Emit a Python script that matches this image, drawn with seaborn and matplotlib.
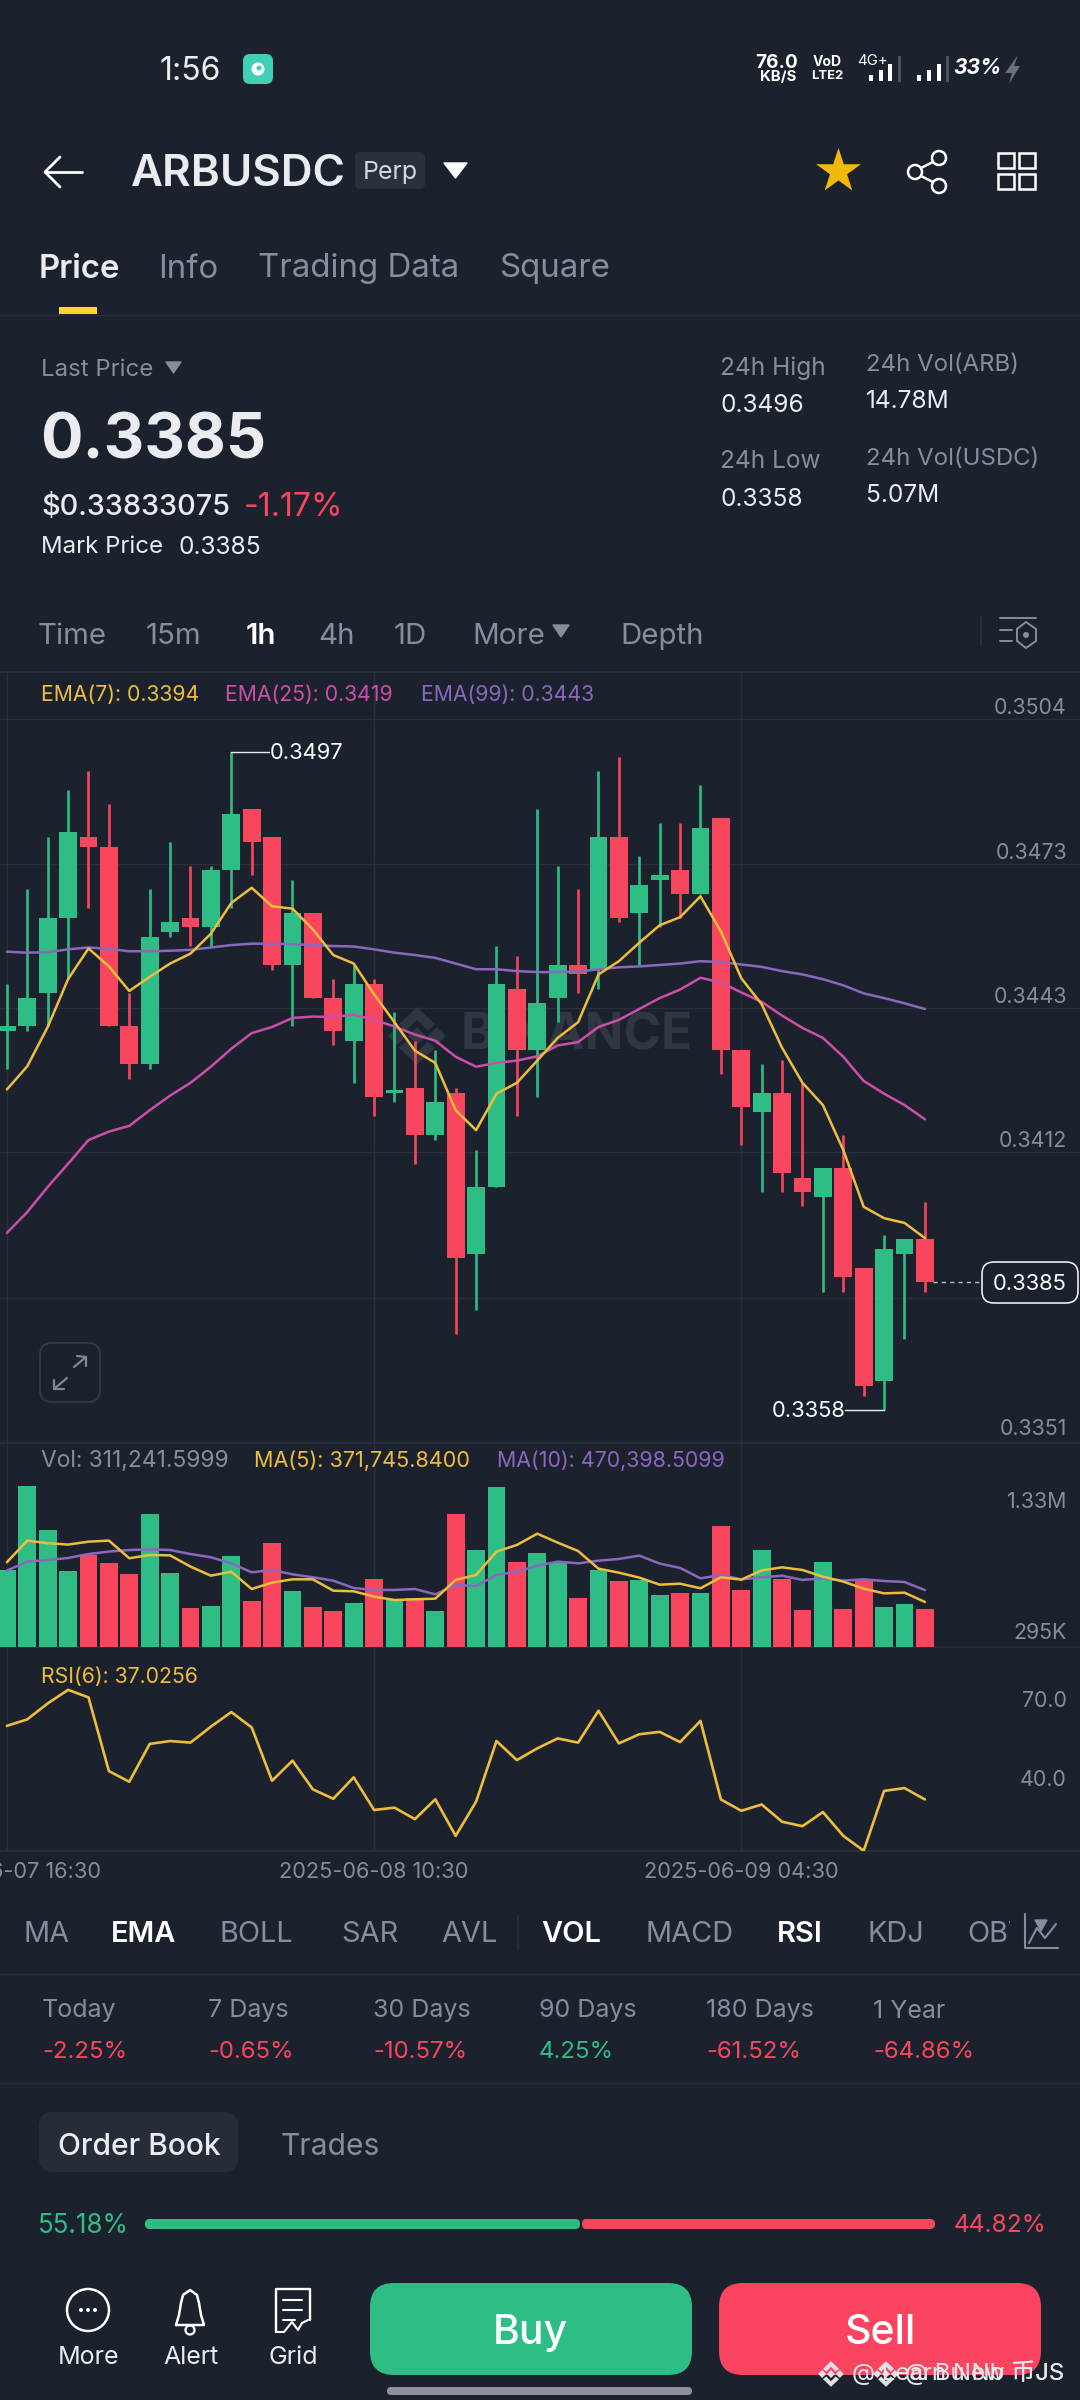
import numpy as np
import matplotlib
matplotlib.use("Agg")
import matplotlib.pyplot as plt
from matplotlib.patches import FancyBboxPatch, Polygon, Circle, Rectangle
from matplotlib.transforms import ScaledTranslation
from matplotlib.ticker import FixedLocator, FixedFormatter
import seaborn as sns

# ---------- data (prices in 1e-4 units) ----------
body_top = [3439,3445,3462,3480,3479,3477,3439,3458,3461,3462,3472,3484,3485,3479,3463,3463,3445,3448,3448,3425.5,3426,3423,3425,3405,3448,3447,3444,3452,3452,3479,3479,3469,3471,3472,3481,3483,3434,3425,3425,3407,3409,3409,3388,3392,3394,3394]
body_bot = [3438,3439,3446,3462,3477,3439,3431,3431,3459,3460,3460,3472,3478,3452,3452,3445,3438,3436,3424,3425,3416,3416,3390,3391,3405,3434,3434,3445,3450,3451,3462,3463,3470,3467,3467,3434,3422,3421,3408,3404,3403,3386,3363,3364,3391,3385]
high = [3448,3468,3479,3489,3493,3486,3446,3468,3478,3473,3473,3497,3485,3479,3470,3463,3449,3452,3449,3442,3436,3434,3426,3413,3456,3454,3485,3473,3468,3493,3496,3475,3482,3482,3490,3483,3434,3431,3432,3427,3409,3416,3388,3395,3394,3402]
low = [3430,3438,3439,3449,3464,3439,3428,3430,3458,3456,3456,3464,3471,3451,3439,3445,3435,3427,3420,3423,3410,3415,3374,3379,3405,3420,3424,3440,3446,3447,3461,3452,3460,3462,3467,3429,3414,3404,3404,3401,3383,3383,3361,3358,3373,3383]
direction = ["G","G","G","G","R","R","R","G","G","R","G","G","R","R","G","R","R","G","R","G","R","G","R","G","G","R","G","G","R","G","R","G","G","R","G","R","R","G","R","R","G","R","R","G","G","R"]
ema7 = [3425.7,3430.6,3438.9,3449.0,3455.5,3451.7,3446.5,3449.5,3452.3,3454.4,3458.6,3465.1,3468.3,3464.4,3463.9,3459.5,3454.1,3452.3,3445.8,3439.9,3433.9,3431.3,3421.3,3417.1,3424.8,3427.1,3431.8,3436.6,3439.9,3450.0,3452.8,3456.7,3460.4,3462.1,3466.5,3459.1,3449.2,3443.7,3434.5,3427.1,3422.4,3412.9,3400.9,3398.5,3397.5,3394.3]
ema25 = [3395.4,3399.8,3405.1,3410.0,3415.0,3416.8,3418.0,3421.3,3424.4,3427.1,3430.5,3434.3,3437.6,3438.9,3440.8,3441.1,3441.0,3441.5,3440.4,3439.0,3437.3,3436.0,3432.6,3430.5,3431.3,3431.8,3432.7,3435.0,3435.7,3438.9,3440.4,3442.7,3445.0,3446.8,3449.3,3448.3,3446.2,3444.2,3441.3,3438.7,3436.6,3432.6,3427.5,3424.8,3422.4,3419.4]
ema99 = [3454.8,3454.6,3454.7,3455.3,3455.7,3455.4,3454.9,3454.9,3455.0,3455.2,3455.7,3456.2,3456.5,3456.5,3456.4,3456.2,3456.0,3455.9,3455.3,3454.6,3454.1,3453.5,3452.3,3451.1,3451.1,3450.7,3450.5,3450.5,3450.6,3451.1,3451.5,3451.7,3452.0,3452.3,3452.8,3452.6,3452.1,3451.6,3450.7,3450.0,3449.0,3447.7,3446.0,3445.0,3443.9,3442.7]
volume = [636,1330,967,631,760,691,606,1099,609,325,336,749,380,859,465,333,295,364,565,388,402,297,1096,804,1325,700,779,691,402,633,543,554,427,446,446,1000,468,799,562,306,702,314,554,328,358,311]
ma5 = [700,879,857,846,870,879,733,760,757,664,589,622,479,532,559,559,465,460,416,388,394,399,554,595,788,843,936,862,793,647,614,573,515,523,485,576,556,633,658,636,581,540,482,443,449,372]
ma10 = [631,705,719,735,768,788,801,807,801,768,741,691,617,636,600,576,548,487,471,471,479,435,512,504,595,622,672,705,691,713,727,755,689,653,567,595,559,576,589,554,567,548,559,545,537,470]
rsi6 = [65.2,67.7,73.8,79.0,76.1,47.9,43.8,58.3,59.4,58.8,64.9,70.5,64.6,44.2,51.9,40.9,37.3,45.5,33.0,33.9,29.5,37.1,23.1,36.2,59.4,52.1,56.6,60.4,58.8,71.0,58.5,62.0,62.9,59.0,67.1,37.03,32.7,35.1,28.5,26.8,32.2,23.1,17.4,40.3,41.4,37.03]
price_ticks = [3504,3473.4,3442.9,3412.4,3381.7,3351]
price_tick_labels = ["0.3504","0.3473","0.3443","0.3412","","0.3351"]
time_ticks = [0,18,36]
time_labels = ["2025-06-07 16:30","2025-06-08 10:30","2025-06-09 04:30"]
range_names = ["Today","7 Days","30 Days","90 Days","180 Days","1 Year"]
range_values = ["-2.25%","-0.65%","-10.57%","4.25%","-61.52%","-64.86%"]
book_shares = [55.18,44.82]

# ---------- style ----------
BG = "#1c222d"; GREEN = "#2ebd85"; RED = "#f9465f"; GRID = "#2a303b"; GRAY = "#848e9c"
YEL = "#edbd3c"; PINK = "#cb4fa8"; PUR = "#8a68bd"; WHITE = "#eaecef"
sns.set_theme(style="dark", rc={"axes.facecolor": "none", "figure.facecolor": BG})
plt.rcParams["font.family"] = ["Inter", "Noto Sans CJK SC", "DejaVu Sans"]

W, H = 1080, 2400
fig = plt.figure(figsize=(W/100, H/100), dpi=100, facecolor=BG)
idx = np.arange(len(high))
XL = (-6.89/20.4, (W-6.89)/20.4)

def panel(top, bottom):
    a = fig.add_axes([0, 1-bottom/H, 1, (bottom-top)/H])
    a.set_facecolor("none")
    for s in a.spines.values():
        s.set_visible(False)
    return a

ax = panel(672, 1443)
axv = panel(1443, 1647)
axr = panel(1647, 1851)
ui = fig.add_axes([0, 0, 1, 1], zorder=5)
ui.set_xlim(0, W); ui.set_ylim(H, 0); ui.axis("off"); ui.set_facecolor("none")

def txt(x, y, s, px, color=GRAY, weight="normal", ha="left", a=None, **kw):
    return (a or ui).text(x, y+6, s, fontsize=px*0.72, color=color, fontweight=weight, ha=ha, va="center", **kw)

def box(x0, y0, x1, y1, r, fc="none", ec="none", lw=0, z=2):
    p = FancyBboxPatch((x0+r, y0+r), x1-x0-2*r, y1-y0-2*r, boxstyle=f"round,pad={r}", fc=fc, ec=ec, lw=lw, zorder=z)
    ui.add_patch(p); return p

def line(xs, ys, color=WHITE, lw=1.6, **kw):
    ui.plot(xs, ys, color=color, lw=lw, solid_capstyle="round", **kw)

def tri(x0, x1, y0, y1, color):
    ui.add_patch(Polygon([(x0, y0), (x1, y0), ((x0+x1)/2, y1)], closed=True, fc=color, ec=color, lw=1, joinstyle="round"))

def logo(target, cx, cy, k, color, z):
    shapes = [
        [(cx-k, cy), (cx, cy-k), (cx+k, cy), (cx, cy+k)],
        [(cx-3.2*k, cy), (cx-2.2*k, cy-k), (cx-1.2*k, cy), (cx-2.2*k, cy+k)],
        [(cx+3.2*k, cy), (cx+2.2*k, cy-k), (cx+1.2*k, cy), (cx+2.2*k, cy+k)],
        [(cx-2*k, cy-1.3*k), (cx, cy-3.2*k), (cx+2*k, cy-1.3*k), (cx+1.2*k, cy-.6*k), (cx, cy-1.8*k), (cx-1.2*k, cy-.6*k)],
        [(cx-2*k, cy+1.3*k), (cx, cy+3.2*k), (cx+2*k, cy+1.3*k), (cx+1.2*k, cy+.6*k), (cx, cy+1.8*k), (cx-1.2*k, cy+.6*k)],
    ]
    for pts in shapes:
        p = Polygon(pts, closed=True, fc=color, ec="none", zorder=z)
        target.add_patch(p)
        p.set_transform(ui.transData)

# ---------- candles ----------
up = np.array(direction) == "G"
colors = np.where(up, GREEN, RED)
top = np.array(body_top)/1e4; bot = np.array(body_bot)/1e4
ax.vlines(idx, np.array(low)/1e4, np.array(high)/1e4, colors=colors, lw=1.9, zorder=3)
ax.bar(idx, top-bot, bottom=bot, width=0.88, color=colors, edgecolor="none", linewidth=0, zorder=3)
sns.lineplot(x=idx, y=np.array(ema99)/1e4, color=PUR, lw=1.8, ax=ax, errorbar=None, zorder=4)
sns.lineplot(x=idx, y=np.array(ema25)/1e4, color=PINK, lw=1.8, ax=ax, errorbar=None, zorder=4)
sns.lineplot(x=idx, y=np.array(ema7)/1e4, color=YEL, lw=1.8, ax=ax, errorbar=None, zorder=4)
ax.set_xlim(*XL)
ax.set_ylim(0.3351, 0.35139)
ax.yaxis.set_major_locator(FixedLocator([p/1e4 for p in price_ticks]))
ax.yaxis.set_major_formatter(FixedFormatter(price_tick_labels))

# ---------- volume ----------
sns.barplot(x=idx, y=volume, hue=direction, palette={"G": GREEN, "R": RED}, native_scale=True, width=0.88,
            dodge=False, gap=0, saturation=1, errorbar=None, legend=False, ax=axv, zorder=3, linewidth=0, edgecolor="none")
sns.lineplot(x=idx, y=ma10, color=PUR, lw=1.8, ax=axv, errorbar=None, zorder=4)
sns.lineplot(x=idx, y=ma5, color=YEL, lw=1.8, ax=axv, errorbar=None, zorder=4)
axv.set_xlim(*XL); axv.set_ylim(0, 1685)
axv.set_yticks([0, 1330]); axv.set_yticklabels(["295K", "1.33M"])

# ---------- RSI ----------
sns.lineplot(x=idx, y=rsi6, color=YEL, lw=1.9, ax=axr, errorbar=None, zorder=4)
axr.set_xlim(*XL); axr.set_ylim(17.3, 95.4)
axr.set_yticks([40, 70]); axr.set_yticklabels(["40.0", "70.0"])

for a in (ax, axv, axr):
    a.set_xlabel(""); a.set_ylabel("")
    a.yaxis.tick_right()
    a.tick_params(axis="y", length=0, pad=-9.4, labelsize=15.4, labelcolor=GRAY)
    a.set_xticks(time_ticks)
    a.grid(True, axis="x", color=GRID, lw=1)
    a.tick_params(axis="x", length=0, labelbottom=False)
    a.set_axisbelow(True)
ax.grid(True, axis="y", color=GRID, lw=1)
ax.spines["top"].set_visible(True); ax.spines["top"].set_color(GRID)
axv.spines["top"].set_visible(True); axv.spines["top"].set_color(GRID)
axv.spines["bottom"].set_visible(True); axv.spines["bottom"].set_color(GRID)
axr.spines["bottom"].set_visible(True); axr.spines["bottom"].set_color(GRID)
axr.set_xticklabels(time_labels)
axr.tick_params(axis="x", labelbottom=True, labelsize=15.7, labelcolor=GRAY, pad=8)

offsets = {ax: {"0.3351": 14}, axv: {"295K": 14, "1.33M": -16}, axr: {}}
for a, default in ((ax, 11), (axv, 0), (axr, 12)):
    for lab in a.get_yticklabels():
        lab.set_ha("right"); lab.set_va("center")
        dy = offsets[a].get(lab.get_text(), default)
        lab.set_transform(lab.get_transform() + ScaledTranslation(0, dy/100, fig.dpi_scale_trans))

# chart annotations
ax.plot([11, 12.85], [0.3497, 0.3497], color=WHITE, lw=1, zorder=5)
ax.text(12.9, 0.34968, "0.3497", color="white", fontsize=15.8, va="center", ha="left", zorder=6)
ax.plot([43, 41.1], [0.3358, 0.3358], color=WHITE, lw=1, zorder=5)
ax.text(41.1, 0.33578, "0.3358", color="white", fontsize=15.8, va="center", ha="right", zorder=6)
ax.plot([45.4, 47.85], [0.3385, 0.3385], color="#b8bcc4", lw=1, ls=(0, (3, 3)), zorder=5)

# watermark behind candles
wm = "#303743"
logo(ax, 417, 1036, 9, wm, 1)
t = ui.text(461, 1036, "BINANCE", fontsize=36.6, color=wm, fontweight="bold", ha="left", va="center")
t.remove(); ax.add_artist(t); t.set_transform(ui.transData); t.set_zorder(1)

# ---------- status bar ----------
txt(160, 65, "1:56", 32, WHITE)
box(243, 54, 273, 84, 7, fc="#3fd0b5")
ui.add_patch(Circle((258, 69), 6.5, fc="white", ec="none", zorder=3))
ui.add_patch(Circle((259, 68), 2.5, fc="#3fd0b5", ec="none", zorder=4))
txt(777, 57, "76.0", 19, "white", "bold", ha="center")
txt(778, 71, "KB/S", 15, "white", "bold", ha="center")
txt(827, 56, "VoD", 14, "white", "bold", ha="center")
txt(827, 70, "LTE2", 13, "white", "bold", ha="center")
txt(872, 55, "4G+", 15, "white", "normal", ha="center")
for x, yt in [(871, 75), (881, 70), (890, 64)]:
    ui.add_patch(Rectangle((x-2.2, yt), 4.5, 81-yt, fc="white", ec="none"))
ui.add_patch(Rectangle((898, 56), 3, 26, fc="#4d535e", ec="none"))
for x, yt in [(919, 75), (929, 70), (939, 64)]:
    ui.add_patch(Rectangle((x-2.2, yt), 4.5, 81-yt, fc="white", ec="none"))
ui.add_patch(Rectangle((946, 56), 3, 26, fc="#4d535e", ec="none"))
txt(978, 62, "33%", 21, "white", "bold", ha="center", style="italic")
ui.add_patch(Polygon([(1018, 55), (1005, 73), (1012, 73), (1009, 84), (1020, 66), (1014, 66)], closed=True, fc="#6b7079", ec="none"))

# ---------- header ----------
line([45, 82], [172, 172], "white", 2)
line([60, 45, 60], [157, 172, 187], "white", 2)
txt(131, 168, "ARBUSDC", 44, WHITE, "semibold")
box(355, 152, 425, 189, 5, fc="#2a303c")
txt(390, 167, "Perp", 25, "#d5d8de", ha="center")
tri(444, 467, 163, 178, "white")
ui.scatter([838], [171], marker="*", s=1150, color="#f0b90b", zorder=3, linewidths=0)
for cx, cy in [(939, 158), (915, 172), (939, 186)]:
    ui.add_patch(Circle((cx, cy), 7, fc="none", ec="white", lw=1.8, zorder=3))
line([921, 933], [168, 162], "white", 1.8)
line([921, 933], [176, 182], "white", 1.8)
for x, y in [(998, 153), (1019, 153), (998, 174), (1019, 174)]:
    ui.add_patch(Rectangle((x, y), 16, 15, fc="none", ec="white", lw=1.8))

# ---------- tabs ----------
txt(39, 263, "Price", 33, WHITE, "semibold")
txt(158, 263, "Info", 33)
txt(258, 263, "Trading Data", 33)
txt(499, 263, "Square", 33)
ui.add_patch(Rectangle((59, 307), 38, 7, fc="#fcd535", ec="none"))
ui.plot([0, W], [315, 315], color=GRID, lw=1)

# ---------- price block ----------
txt(41, 364, "Last Price", 24)
tri(166, 181, 362, 373, GRAY)
txt(40, 436, "0.3385", 63, WHITE, "bold")
txt(41, 501, "$0.33833075", 28.8, WHITE, "medium")
txt(244, 501, "-1.17%", 32, RED)
txt(41, 541, "Mark Price", 24, WHITE)
txt(178, 541, "0.3385", 24.5, WHITE)
txt(720, 362, "24h High", 24.5)
txt(720, 399, "0.3496", 24.5, WHITE)
txt(720, 456, "24h Low", 24.5)
txt(720, 493, "0.3358", 24.5, WHITE)
txt(866, 359, "24h Vol(ARB)", 24)
txt(866, 396, "14.78M", 24.5, WHITE)
txt(866, 453, "24h Vol(USDC)", 24)
txt(866, 490, "5.07M", 24.5, WHITE)

# ---------- interval row ----------
for x, s, c, w in [(38, "Time", GRAY, "normal"), (146, "15m", GRAY, "normal"), (246, "1h", "white", "semibold"),
                   (318, "4h", GRAY, "normal"), (394, "1D", GRAY, "normal"), (472, "More", GRAY, "normal"), (620, "Depth", GRAY, "normal")]:
    txt(x, 630, s, 29.5, c, w)
tri(553, 569, 625, 637, GRAY)
ui.plot([981, 981], [617, 646], color=GRID, lw=1.5)
line([1000, 1036], [618, 618], GRAY, 1.4)
line([1000, 1012], [630, 630], GRAY, 1.4)
line([1000, 1012], [641, 641], GRAY, 1.4)
ui.add_patch(Polygon([(1026, 622), (1036, 629), (1036, 641), (1026, 648), (1017, 641), (1017, 629)], closed=True, fc="none", ec=GRAY, lw=1.4))
ui.add_patch(Circle((1026, 635), 3, fc=GRAY, ec="none"))

# ---------- legends ----------
txt(41, 689, "EMA(7): 0.3394", 21.2, YEL)
txt(225, 689, "EMA(25): 0.3419", 21.2, PINK)
txt(421, 689, "EMA(99): 0.3443", 21.2, PUR)
txt(41, 1455, "Vol: 311,241.5999", 22.8, GRAY)
txt(254, 1455, "MA(5): 371,745.8400", 21.6, YEL)
txt(497, 1455, "MA(10): 470,398.5099", 21.4, PUR)
txt(41, 1671, "RSI(6): 37.0256", 21.2, YEL)

# last-price pill
box(982, 1262, 1078, 1303, 12, fc=BG, ec="white", lw=1.1, z=4)
txt(1030, 1278, "0.3385", 22, "white", ha="center", zorder=5)

# expand icon
box(40, 1343, 100, 1402, 12, ec="#343b47", lw=1.3)
line([54, 67], [1389, 1378], "#7e8794", 1.6)
line([54, 54, 64], [1380, 1389, 1389], "#7e8794", 1.6)
line([74, 86], [1367, 1357], "#7e8794", 1.6)
line([77, 86, 86], [1356, 1357, 1366], "#7e8794", 1.6)

# ---------- indicators row ----------
ui.plot([0, W], [1974, 1974], color=GRID, lw=1)
ui.plot([0, W], [2083, 2083], color=GRID, lw=1)
for x, s, c, w in [(23, "MA", GRAY, "normal"), (111, "EMA", "white", "semibold"), (220, "BOLL", GRAY, "normal"), (341, "SAR", GRAY, "normal"),
                   (441, "AVL", GRAY, "normal"), (541, "VOL", "white", "semibold"), (646, "MACD", GRAY, "normal"), (777, "RSI", "white", "semibold"),
                   (868, "KDJ", GRAY, "normal")]:
    txt(x, 1929, s, 29, c, w)
t = txt(967, 1929, "OBV", 29, GRAY)
t.set_clip_path(Rectangle((960, 1900), 50, 60, transform=ui.transData))
t.set_clip_on(True)
ui.plot([518, 518], [1915, 1950], color=GRID, lw=1.2)
line([1025, 1025, 1058], [1914, 1948, 1948], GRAY, 1.5)
line([1029, 1037, 1045, 1056], [1943, 1928, 1938, 1924], GRAY, 1.5)
tri(1035, 1047, 1920, 1931, GRAY)

# ---------- range stats ----------
xs = [42, 208, 373, 539, 706, 873]
for x, n, v in zip(xs, range_names, range_values):
    txt(x, 2005, n, 25)
    txt(x, 2046, v, 24, RED if v.startswith("-") else GREEN)

# ---------- order book ----------
box(39, 2112, 238, 2172, 14, fc="#262c38")
txt(139, 2141, "Order Book", 30, WHITE, "medium", ha="center")
txt(281, 2141, "Trades", 30)
txt(38, 2220, f"{book_shares[0]}%", 26, GREEN)
txt(954, 2220, f"{book_shares[1]}%", 24.5, RED)
x0, x1 = 145, 935
xm = x0 + (x1-x0)*book_shares[0]/100
box(x0, 2219, xm-1, 2229, 4.5, fc=GREEN)
box(xm+1, 2219, x1, 2229, 4.5, fc=RED)

# ---------- bottom bar ----------
ui.add_patch(Circle((88, 2310), 21, fc="none", ec="white", lw=1.8))
for dx in (-7, 0, 7):
    ui.add_patch(Circle((88+dx, 2310), 2, fc="white", ec="none"))
txt(89, 2352, "More", 25, WHITE, ha="center")
ui.plot([176, 204, 201, 199, 197, 190, 183, 181, 179, 176], [2325, 2325, 2315, 2303, 2295, 2290, 2295, 2303, 2315, 2325], color="white", lw=1.8)
ui.add_patch(Circle((190, 2330), 4.5, fc="none", ec="white", lw=1.6))
txt(191, 2352, "Alert", 25, WHITE, ha="center")
ui.plot([276, 276, 310, 310], [2332, 2289, 2289, 2320], color="white", lw=1.7)
for y, xe in [(2300, 302), (2310, 302), (2320, 295)]:
    line([283, xe], [y, y], "white", 1.5)
line([276, 284, 292, 298, 302, 308], [2332, 2332, 2322, 2330, 2323, 2320], "white", 1.5)
txt(293, 2352, "Grid", 25, WHITE, ha="center")
box(370, 2283, 692, 2375, 24, fc=GREEN)
box(719, 2283, 1041, 2375, 24, fc="#fb4560")
txt(530, 2327, "Buy", 41, "white", "medium", ha="center", zorder=4)
txt(880, 2327, "Sell", 41, "white", "medium", ha="center", zorder=4)
box(387, 2387, 692, 2395, 4, fc="#8e9199")

# overlapping platform watermarks
logo(ui, 831, 2374, 4, "#dfe1e6", 6)
logo(ui, 886, 2374, 4, "#dfe1e6", 6)
txt(852, 2367, "@ Learn New 币JS", 24, "#e6e8ec", zorder=6)
txt(905, 2367, "@ Bu Nb 币JS", 24, "#e6e8ec", zorder=6)

fig.savefig("out.png", dpi=100, facecolor=BG)
